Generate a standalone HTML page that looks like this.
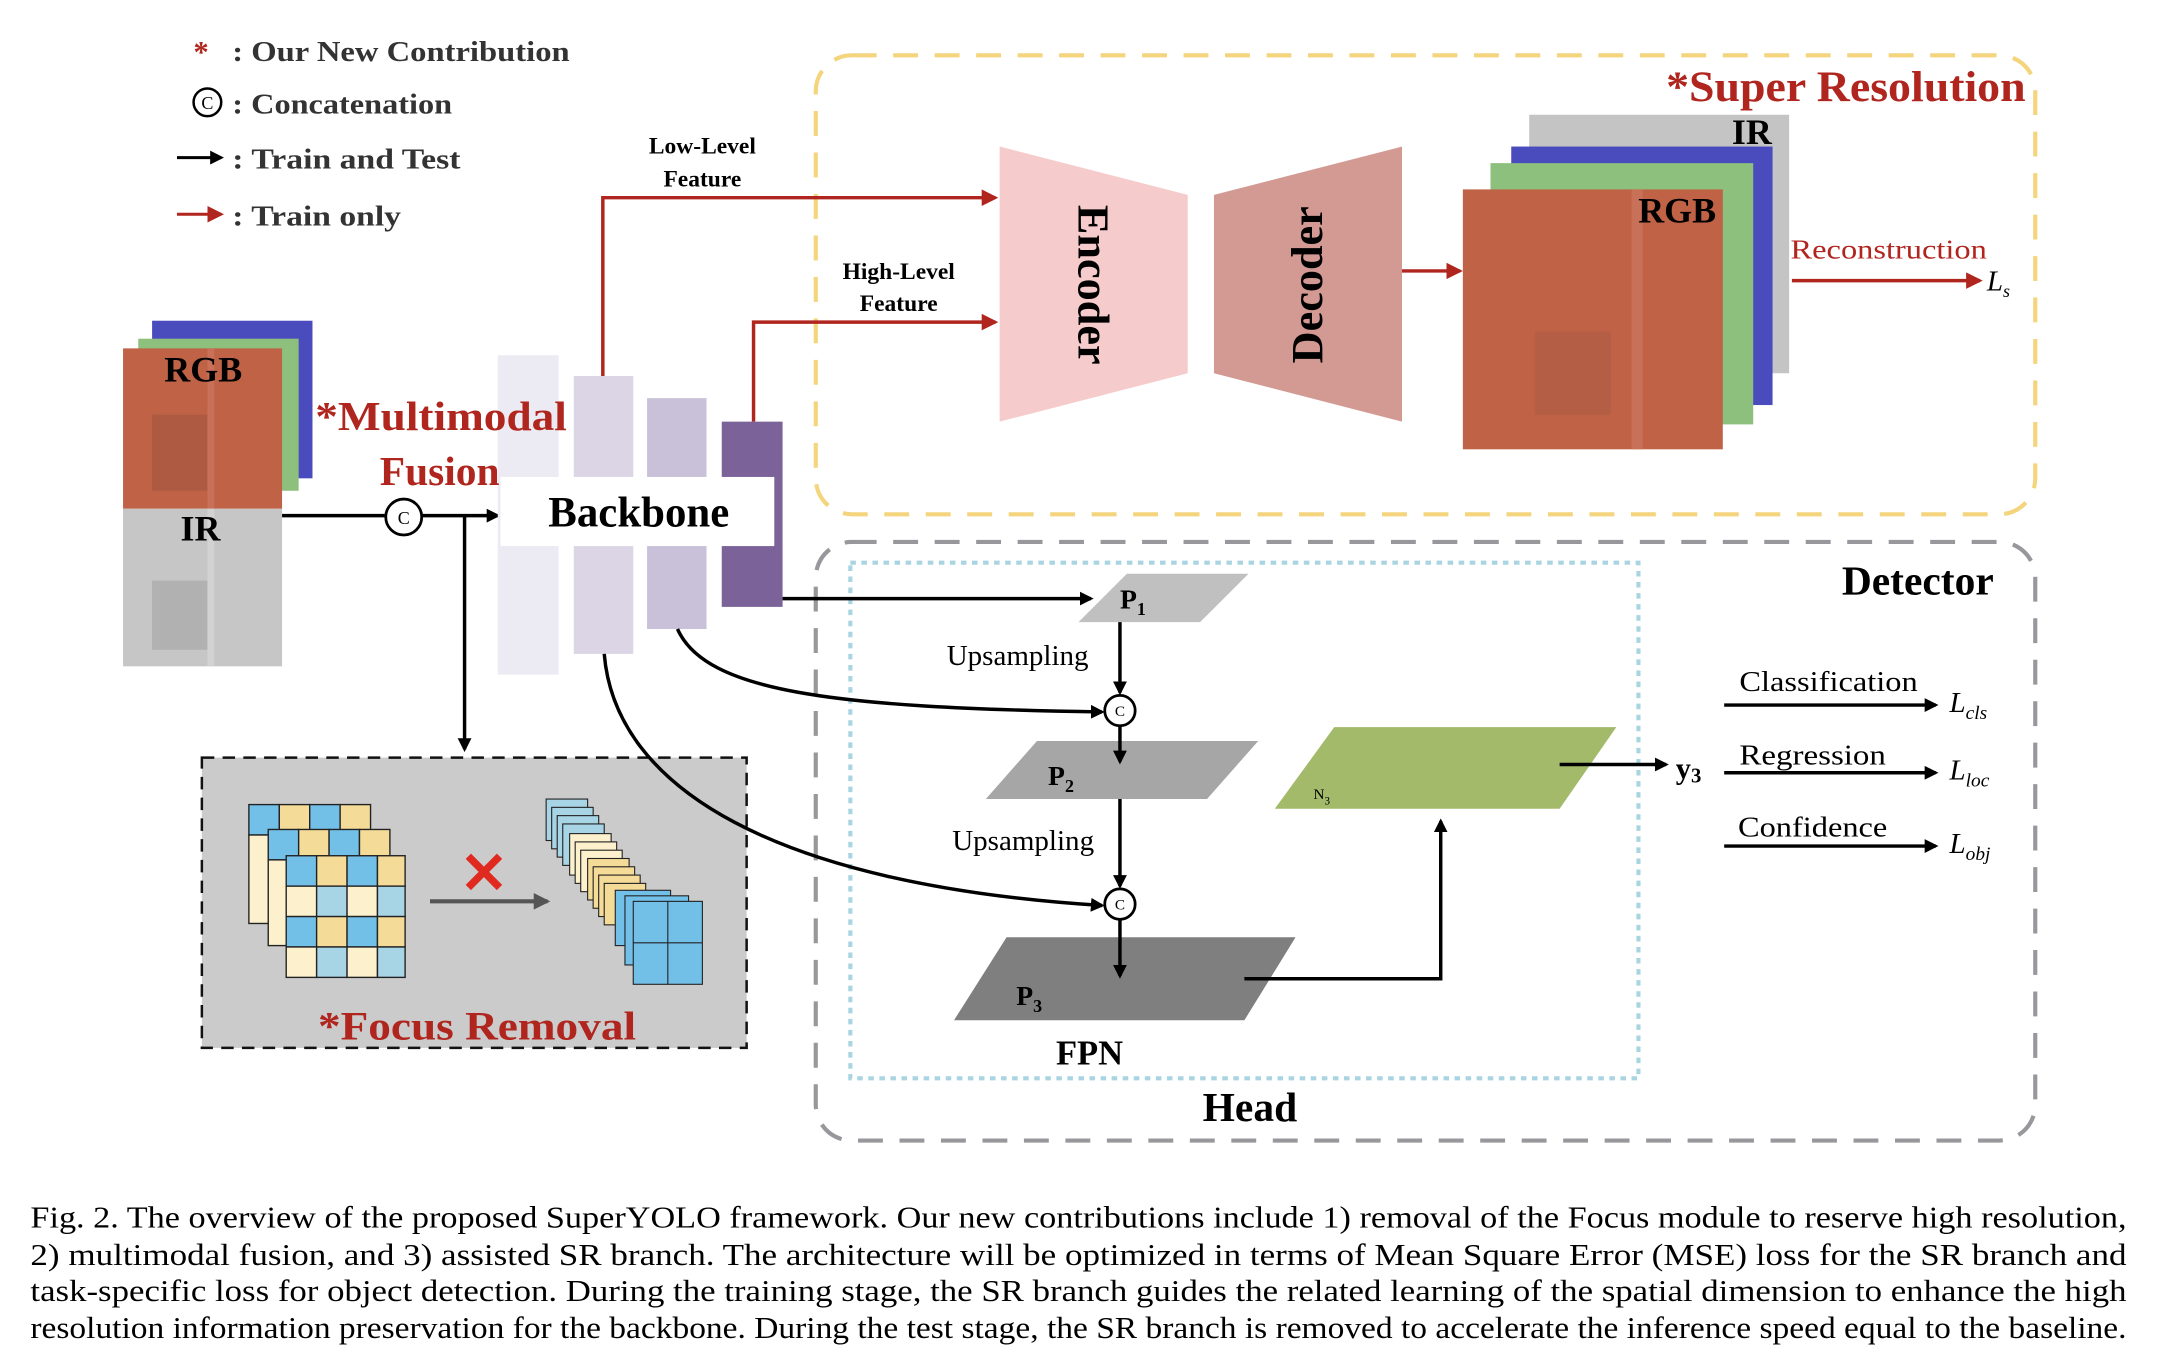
<!DOCTYPE html>
<html><head><meta charset="utf-8"><style>
html,body{margin:0;padding:0;background:#fff;}
svg{display:block;}
text{font-family:"Liberation Serif",serif;}
.b{font-weight:bold;}
</style></head><body>
<svg width="2168" height="1370" viewBox="0 0 1568 991" preserveAspectRatio="none" xmlns="http://www.w3.org/2000/svg">
<defs>
<marker id="ak" markerWidth="10" markerHeight="10" refX="8" refY="5" orient="auto" markerUnits="userSpaceOnUse"><path d="M0,0 L10,5 L0,10 z" fill="#000"/></marker>
<marker id="ar" markerWidth="12" markerHeight="12" refX="10" refY="6" orient="auto" markerUnits="userSpaceOnUse"><path d="M0,0 L12,6 L0,12 z" fill="#b0261f"/></marker>
<marker id="ag" markerWidth="12" markerHeight="12" refX="10" refY="6" orient="auto" markerUnits="userSpaceOnUse"><path d="M0,0 L12,6 L0,12 z" fill="#555"/></marker>
</defs>

<!-- Legend -->
<text x="140" y="45" font-size="22" fill="#b0261f" class="b">*</text>
<text x="168" y="44" font-size="21" fill="#333" class="b" textLength="244" lengthAdjust="spacingAndGlyphs">: Our New Contribution</text>
<circle cx="150" cy="74" r="10" fill="#fff" stroke="#000" stroke-width="1.8"/>
<text x="150" y="79" font-size="13" text-anchor="middle">C</text>
<text x="168" y="82" font-size="21" fill="#333" class="b" textLength="159" lengthAdjust="spacingAndGlyphs">: Concatenation</text>
<line x1="128" y1="114" x2="160" y2="114" stroke="#000" stroke-width="2.2" marker-end="url(#ak)"/>
<text x="168" y="122" font-size="21" fill="#333" class="b" textLength="165" lengthAdjust="spacingAndGlyphs">: Train and Test</text>
<line x1="128" y1="155" x2="160" y2="155" stroke="#b0261f" stroke-width="2.2" marker-end="url(#ar)"/>
<text x="168" y="163" font-size="21" fill="#333" class="b" textLength="122" lengthAdjust="spacingAndGlyphs">: Train only</text>

<!-- SR box -->
<rect x="590" y="40" width="882" height="332" rx="26" fill="none" stroke="#f4d47c" stroke-width="3" stroke-dasharray="18,12"/>
<text x="1205" y="73" font-size="31" fill="#b0261f" class="b" textLength="260" lengthAdjust="spacingAndGlyphs">*Super Resolution</text>

<!-- feature lines -->
<text x="508" y="111" font-size="17" class="b" text-anchor="middle">Low-Level</text>
<text x="508" y="135" font-size="17" class="b" text-anchor="middle">Feature</text>
<polyline points="436,272 436,143 720,143" fill="none" stroke="#b0261f" stroke-width="2.5" marker-end="url(#ar)"/>
<text x="650" y="202" font-size="17" class="b" text-anchor="middle">High-Level</text>
<text x="650" y="225" font-size="17" class="b" text-anchor="middle">Feature</text>
<polyline points="545,305 545,233 720,233" fill="none" stroke="#b0261f" stroke-width="2.5" marker-end="url(#ar)"/>

<!-- Encoder/Decoder -->
<polygon points="723,106 859,141 859,270 723,305" fill="#f6cbcb"/>
<text transform="translate(780,206) rotate(90)" font-size="32" class="b" text-anchor="middle">Encoder</text>
<polygon points="878,141 1014,106 1014,305 878,270" fill="#d39a93"/>
<text transform="translate(956,206) rotate(-90)" font-size="32" class="b" text-anchor="middle">Decoder</text>
<line x1="1014" y1="196" x2="1056" y2="196" stroke="#b0261f" stroke-width="2.5" marker-end="url(#ar)"/>

<!-- SR image stack -->
<rect x="1106" y="83" width="188" height="187" fill="#c4c4c4"/>
<rect x="1093" y="106" width="189" height="187" fill="#4a4cbd"/>
<rect x="1078" y="118" width="190" height="189" fill="#8cc07c"/>
<rect x="1058" y="137" width="188" height="188" fill="#bf6246"/>
<rect x="1180" y="137" width="8" height="188" fill="#c87058"/>
<rect x="1110" y="240" width="55" height="60" fill="#a55a45" opacity="0.4"/>
<text x="1267" y="104" font-size="26" class="b" text-anchor="middle">IR</text>
<text x="1213" y="161" font-size="26" class="b" text-anchor="middle">RGB</text>
<text x="1295" y="187" font-size="20" fill="#b0261f" textLength="142" lengthAdjust="spacingAndGlyphs">Reconstruction</text>
<line x1="1296" y1="203" x2="1432" y2="203" stroke="#b0261f" stroke-width="2.5" marker-end="url(#ar)"/>
<text x="1437" y="210" font-size="21" font-style="italic">L<tspan font-size="13" dy="5">s</tspan></text>

<!-- Detector box -->
<rect x="590" y="392" width="882" height="433" rx="26" fill="none" stroke="#97979c" stroke-width="3" stroke-dasharray="18,12"/>
<rect x="615" y="407" width="570" height="373" fill="none" stroke="#a9d4e2" stroke-width="3" stroke-dasharray="4,4"/>
<text x="1442" y="430" font-size="30" class="b" text-anchor="end">Detector</text>
<text x="904" y="811" font-size="30" class="b" text-anchor="middle">Head</text>
<text x="788" y="770" font-size="25" class="b" text-anchor="middle">FPN</text>

<!-- Inputs -->
<rect x="110" y="232" width="116" height="114" fill="#4a4cbd"/>
<rect x="100" y="245" width="116" height="110" fill="#8cc07c"/>
<rect x="89" y="252" width="115" height="116" fill="#bf6246"/>
<rect x="150" y="252" width="5" height="116" fill="#c87058"/>
<rect x="89" y="368" width="115" height="114" fill="#c6c6c6"/>
<rect x="150" y="368" width="5" height="114" fill="#d2d2d2"/>
<rect x="110" y="420" width="40" height="50" fill="#8a8a8a" opacity="0.35"/>
<rect x="110" y="300" width="40" height="55" fill="#8e4a38" opacity="0.35"/>
<text x="147" y="276" font-size="26" class="b" text-anchor="middle">RGB</text>
<text x="145" y="391" font-size="26" class="b" text-anchor="middle">IR</text>

<line x1="204" y1="373" x2="279" y2="373" stroke="#000" stroke-width="2.5"/>
<circle cx="292" cy="374" r="13" fill="#fff" stroke="#000" stroke-width="2"/>
<text x="292" y="379" font-size="13" text-anchor="middle">C</text>
<line x1="305" y1="373" x2="360" y2="373" stroke="#000" stroke-width="2.5" marker-end="url(#ak)"/>
<line x1="336" y1="373" x2="336" y2="542" stroke="#000" stroke-width="2.5" marker-end="url(#ak)"/>

<!-- Backbone -->
<rect x="360" y="257" width="44" height="231" fill="#eceaf2"/>
<rect x="415" y="272" width="43" height="201" fill="#dcd5e6"/>
<rect x="468" y="288" width="43" height="167" fill="#c9c0d9"/>
<rect x="522" y="305" width="44" height="134" fill="#7b6399"/>
<rect x="362" y="345" width="198" height="50" fill="#fff"/>
<text x="462" y="381" font-size="31" class="b" text-anchor="middle">Backbone</text>
<text x="228" y="311" font-size="30" fill="#b0261f" class="b" textLength="182" lengthAdjust="spacingAndGlyphs">*Multimodal</text>
<text x="318" y="351" font-size="30" fill="#b0261f" class="b" text-anchor="middle">Fusion</text>

<!-- Focus removal -->
<rect x="146" y="548" width="394" height="210" fill="#cbcbcb" stroke="#111" stroke-width="1.8" stroke-dasharray="9,6"/>
<g stroke="#222" stroke-width="1">
<g>
<rect x="180" y="582" width="22" height="22" fill="#72bfe8"/><rect x="202" y="582" width="22" height="22" fill="#f5db98"/><rect x="224" y="582" width="22" height="22" fill="#72bfe8"/><rect x="246" y="582" width="22" height="22" fill="#f5db98"/>
<rect x="180" y="604" width="22" height="64" fill="#fcf0cd"/>
</g>
<g>
<rect x="194" y="600" width="22" height="22" fill="#72bfe8"/><rect x="216" y="600" width="22" height="22" fill="#f5db98"/><rect x="238" y="600" width="22" height="22" fill="#72bfe8"/><rect x="260" y="600" width="22" height="22" fill="#f5db98"/>
<rect x="194" y="622" width="22" height="62" fill="#fcf0cd"/>
</g>
<g>
<rect x="207" y="619" width="22" height="22" fill="#72bfe8"/><rect x="229" y="619" width="22" height="22" fill="#f5db98"/><rect x="251" y="619" width="22" height="22" fill="#72bfe8"/><rect x="273" y="619" width="20" height="22" fill="#f5db98"/>
<rect x="207" y="641" width="22" height="22" fill="#fcf0cd"/><rect x="229" y="641" width="22" height="22" fill="#a8d5e6"/><rect x="251" y="641" width="22" height="22" fill="#fcf0cd"/><rect x="273" y="641" width="20" height="22" fill="#a8d5e6"/>
<rect x="207" y="663" width="22" height="22" fill="#72bfe8"/><rect x="229" y="663" width="22" height="22" fill="#f5db98"/><rect x="251" y="663" width="22" height="22" fill="#72bfe8"/><rect x="273" y="663" width="20" height="22" fill="#f5db98"/>
<rect x="207" y="685" width="22" height="22" fill="#fcf0cd"/><rect x="229" y="685" width="22" height="22" fill="#a8d5e6"/><rect x="251" y="685" width="22" height="22" fill="#fcf0cd"/><rect x="273" y="685" width="20" height="22" fill="#a8d5e6"/>
</g>
</g>
<line x1="311" y1="652" x2="396" y2="652" stroke="#555" stroke-width="3" marker-end="url(#ag)"/>
<text x="350" y="646" font-size="42" fill="#e02a20" class="b" text-anchor="middle" font-family="Liberation Sans, sans-serif">✕</text>
<g stroke="#222" stroke-width="0.8">
<rect x="395" y="578" width="30" height="30" fill="#a8d5e6"/>
<rect x="399" y="584" width="30" height="30" fill="#a8d5e6"/>
<rect x="403" y="590" width="30" height="30" fill="#a8d5e6"/>
<rect x="407" y="596" width="30" height="30" fill="#a8d5e6"/>
<rect x="412" y="603" width="30" height="30" fill="#fcf0cd"/>
<rect x="416" y="609" width="30" height="30" fill="#fcf0cd"/>
<rect x="420" y="615" width="30" height="30" fill="#fcf0cd"/>
<rect x="425" y="621" width="30" height="30" fill="#f5db98"/>
<rect x="429" y="627" width="30" height="30" fill="#f5db98"/>
<rect x="433" y="633" width="30" height="30" fill="#f5db98"/>
<rect x="437" y="639" width="30" height="30" fill="#f5db98"/>
<rect x="445" y="644" width="40" height="40" fill="#72bfe8"/>
<rect x="452" y="648" width="46" height="50" fill="#72bfe8"/>
<rect x="458" y="652" width="50" height="60" fill="#72bfe8"/>
<line x1="483" y1="652" x2="483" y2="712"/><line x1="458" y1="682" x2="508" y2="682"/>
</g>
<text x="230" y="752" font-size="29" fill="#b0261f" class="b" textLength="230" lengthAdjust="spacingAndGlyphs">*Focus Removal</text>

<!-- FPN -->
<line x1="566" y1="433" x2="789" y2="433" stroke="#000" stroke-width="2.5" marker-end="url(#ak)"/>
<polygon points="815,415 903,415 868,450 780,450" fill="#c0c0c0"/>
<text x="810" y="440" font-size="20" class="b">P<tspan font-size="13" dy="5">1</tspan></text>
<line x1="810" y1="450" x2="810" y2="501" stroke="#000" stroke-width="2.5" marker-end="url(#ak)"/>
<text x="736" y="481" font-size="21" text-anchor="middle">Upsampling</text>
<circle cx="810" cy="514" r="11" fill="#fff" stroke="#000" stroke-width="2"/>
<text x="810" y="518" font-size="11" text-anchor="middle">C</text>
<path d="M490,455 C510,500 600,512 797,515" fill="none" stroke="#000" stroke-width="2.5" marker-end="url(#ak)"/>
<polygon points="750,536 910,536 873,578 713,578" fill="#a6a6a6"/>
<line x1="810" y1="525" x2="810" y2="551" stroke="#000" stroke-width="2.5" marker-end="url(#ak)"/>
<text x="758" y="568" font-size="20" class="b">P<tspan font-size="13" dy="5">2</tspan></text>
<line x1="810" y1="578" x2="810" y2="641" stroke="#000" stroke-width="2.5" marker-end="url(#ak)"/>
<text x="740" y="615" font-size="21" text-anchor="middle">Upsampling</text>
<circle cx="810" cy="654" r="11" fill="#fff" stroke="#000" stroke-width="2"/>
<text x="810" y="658" font-size="11" text-anchor="middle">C</text>
<path d="M437,473 C445,570 560,640 797,655" fill="none" stroke="#000" stroke-width="2.5" marker-end="url(#ak)"/>
<polygon points="728,678 937,678 900,738 690,738" fill="#7f7f7f"/>
<line x1="810" y1="665" x2="810" y2="706" stroke="#000" stroke-width="2.5" marker-end="url(#ak)"/>
<text x="735" y="727" font-size="20" class="b">P<tspan font-size="13" dy="5">3</tspan></text>
<polyline points="900,708 1042,708 1042,594" fill="none" stroke="#000" stroke-width="2.5" marker-end="url(#ak)"/>
<polygon points="965,526 1169,526 1128,585 922,585" fill="#a3ba6b"/>
<text x="950" y="578" font-size="11">N<tspan font-size="8" dy="4">3</tspan></text>
<line x1="1128" y1="553" x2="1205" y2="553" stroke="#000" stroke-width="2.5" marker-end="url(#ak)"/>
<text x="1212" y="563" font-size="22" class="b">y<tspan font-size="15" dy="3">3</tspan></text>

<text x="1258" y="500" font-size="21" textLength="129" lengthAdjust="spacingAndGlyphs">Classification</text>
<line x1="1247" y1="510" x2="1400" y2="510" stroke="#000" stroke-width="2.5" marker-end="url(#ak)"/>
<text x="1410" y="515" font-size="21" font-style="italic">L<tspan font-size="14" dy="5">cls</tspan></text>
<text x="1258" y="553" font-size="21" textLength="106" lengthAdjust="spacingAndGlyphs">Regression</text>
<line x1="1247" y1="559" x2="1400" y2="559" stroke="#000" stroke-width="2.5" marker-end="url(#ak)"/>
<text x="1410" y="564" font-size="21" font-style="italic">L<tspan font-size="14" dy="5">loc</tspan></text>
<text x="1257" y="605" font-size="21" textLength="108" lengthAdjust="spacingAndGlyphs">Confidence</text>
<line x1="1247" y1="612" x2="1400" y2="612" stroke="#000" stroke-width="2.5" marker-end="url(#ak)"/>
<text x="1410" y="617" font-size="21" font-style="italic">L<tspan font-size="14" dy="5">obj</tspan></text>

<!-- Caption -->
<g font-size="22" fill="#000">
<text x="22" y="888" textLength="1516" lengthAdjust="spacingAndGlyphs">Fig. 2.  The overview of the proposed SuperYOLO framework. Our new contributions include 1) removal of the Focus module to reserve high resolution,</text>
<text x="22" y="915" textLength="1516" lengthAdjust="spacingAndGlyphs">2) multimodal fusion, and 3) assisted SR branch. The architecture will be optimized in terms of Mean Square Error (MSE) loss for the SR branch and</text>
<text x="22" y="941" textLength="1516" lengthAdjust="spacingAndGlyphs">task-specific loss for object detection. During the training stage, the SR branch guides the related learning of the spatial dimension to enhance the high</text>
<text x="22" y="968" textLength="1516" lengthAdjust="spacingAndGlyphs">resolution information preservation for the backbone. During the test stage, the SR branch is removed to accelerate the inference speed equal to the baseline.</text>
</g>
</svg>
</body></html>
